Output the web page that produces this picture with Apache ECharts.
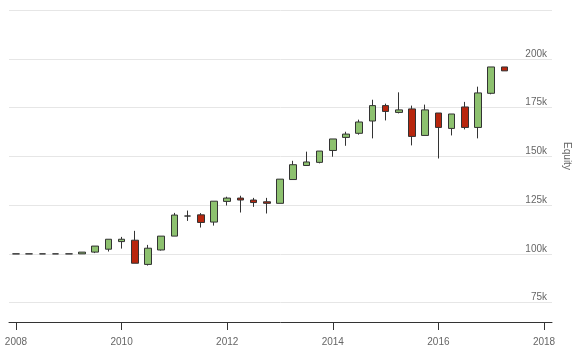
<!DOCTYPE html>
<html>
<head>
<meta charset="utf-8">
<script src="https://cdn.jsdelivr.net/npm/echarts@6/dist/echarts.min.js"></script>
<style>html,body{margin:0;padding:0;background:#fff}#c{width:580px;height:360px}</style>
</head>
<body>
<div id="c"></div>
<script>
var quarters = ['2008-01','2008-04','2008-07','2008-10','2009-01','2009-04','2009-07','2009-10',
  '2010-01','2010-04','2010-07','2010-10','2011-01','2011-04','2011-07','2011-10',
  '2012-01','2012-04','2012-07','2012-10','2013-01','2013-04','2013-07','2013-10',
  '2014-01','2014-04','2014-07','2014-10','2015-01','2015-04','2015-07','2015-10',
  '2016-01','2016-04','2016-07','2016-10','2017-01','2017-04'];
var openVals = [100000,100000,100000,100000,100000,100000,100900,102400,
  106300,107000,94600,102000,109100,119400,120000,116300,
  126900,128600,127600,126700,125900,138100,145300,146900,
  153000,159700,161800,168100,176000,172500,174300,160700,
  172200,164300,175300,164800,182300,195800];
var closeVals = [100000,100000,100000,100000,100000,100900,104000,107500,
  107500,95200,102900,109100,119900,119400,116100,127000,
  128600,127600,126300,125900,138300,145700,147100,152700,
  158900,161400,167600,176000,173000,173800,160200,173800,
  164800,171700,164800,182500,195800,193800];
var lowVals = [100000,100000,100000,100000,100000,100000,100400,101200,
  102700,95200,94000,101700,109100,116900,113500,114500,
  124800,121200,124100,120700,125900,138100,145300,146400,
  149800,155400,161100,159200,168400,172000,155600,160700,
  148900,160700,163800,159200,181800,193800];
var highVals = [100000,100000,100000,100000,100000,100900,104000,107500,
  108700,111800,104600,109100,121000,122200,120900,127000,
  129300,129800,128700,128700,138300,147700,152400,152700,
  158900,162600,168800,179000,177000,182800,176000,176500,
  172200,171700,177900,185700,195800,195800];
var yearTicks = [2008,2010,2012,2014,2016,2018];
var equityTicks = [75000,100000,125000,150000,175000,200000,225000];
var equityLabels = [75000,100000,125000,150000,175000,200000];

function qToYear(q) {
  var p = q.split('-');
  return Number(p[0]) + (Number(p[1]) - 1) / 12;
}
var data = quarters.map(function (q, i) {
  return [qToYear(q), openVals[i], closeVals[i], lowVals[i], highVals[i]];
});

var chart = echarts.init(document.getElementById('c'), null, {renderer: 'canvas'});
chart.setOption({
  animation: false,
  grid: {left: 9, right: 27, top: 10, bottom: 38, containLabel: false},
  xAxis: {
    type: 'value',
    min: 2007.868,
    max: 2018.151,
    splitLine: {show: false},
    axisLine: {show: true, lineStyle: {color: '#333', width: 1}},
    axisTick: {show: true, length: 8, lineStyle: {color: '#333'}, customValues: yearTicks},
    axisLabel: {
      customValues: yearTicks,
      color: '#666', fontSize: 10, margin: 15,
      fontFamily: 'Liberation Sans, Arial, sans-serif',
      formatter: function (v) { return String(Math.round(v)); }
    }
  },
  yAxis: {
    type: 'value',
    position: 'right',
    min: 65080,
    max: 225000,
    name: 'Equity',
    nameLocation: 'middle',
    nameRotate: -90,
    nameGap: 10,
    nameTextStyle: {color: '#666', fontSize: 10, fontFamily: 'Liberation Sans, Arial, sans-serif', padding: [0, 20, 0, 0]},
    axisLine: {show: false},
    axisTick: {show: false, customValues: equityTicks},
    splitLine: {show: true, lineStyle: {color: '#e6e6e6', width: 1}},
    axisLabel: {
      customValues: equityLabels,
      inside: true,
      margin: 5,
      verticalAlign: 'bottom',
      color: '#666', fontSize: 10,
      fontFamily: 'Liberation Sans, Arial, sans-serif',
      formatter: function (v) { return (v / 1000) + 'k'; }
    }
  },
  series: [{
    type: 'candlestick',
    barWidth: 7,
    data: data,
    itemStyle: {
      color: '#8dc16f',
      color0: '#b8260d',
      borderColor: '#333',
      borderColor0: '#333',
      borderColorDoji: '#333',
      borderWidth: 1
    }
  }]
});
</script>
</body>
</html>
